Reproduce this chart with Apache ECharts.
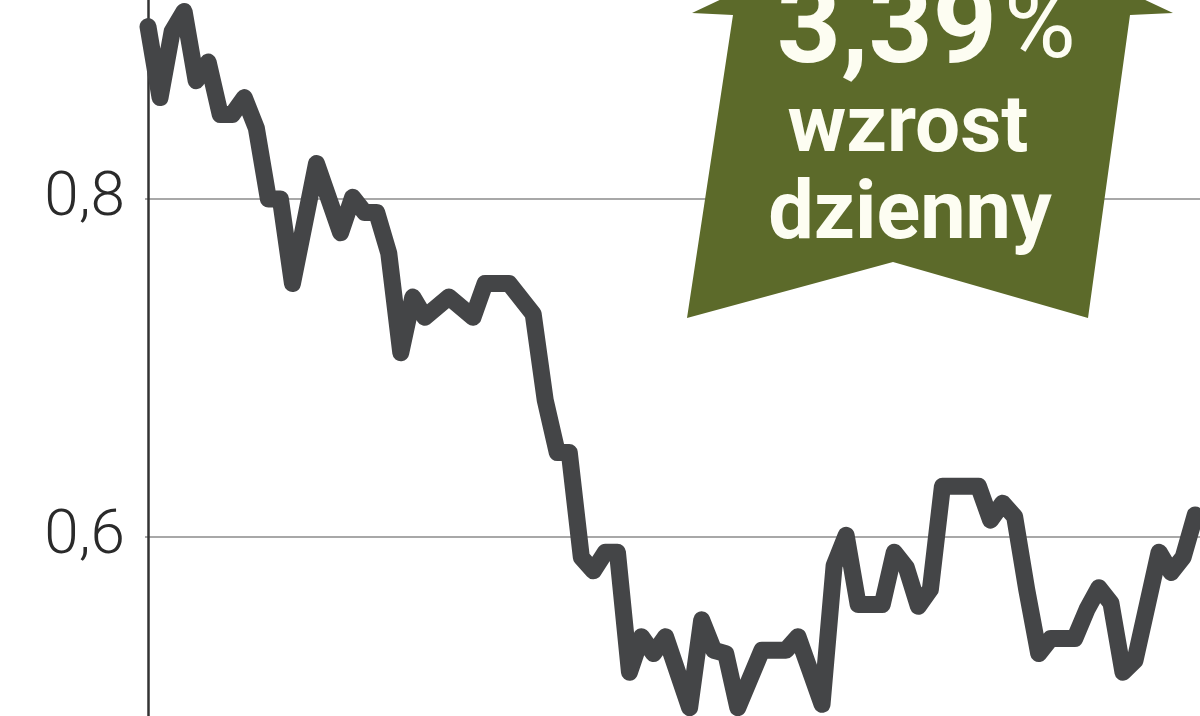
<!DOCTYPE html>
<html>
<head>
<meta charset="utf-8">
<script src="https://cdn.jsdelivr.net/npm/echarts@6/dist/echarts.min.js"></script>
<style>
html,body{margin:0;padding:0;background:#fff;}
#c{width:1200px;height:716px;}
</style>
</head>
<body>
<div id="c"></div>
<script>
// trading-day index of each vertex
const days = [0,1,2,3,4,5,6,7,8,9,10,11,12,14,16,17,18,19,20,21,22,23,25,27,28,30,32,33,34,35,36,37,38,39,40,41,42,43,45,46,47,48,49,51,53,54,55,56,57,58,59,61,62,63,64,65,66,69,70,71,72,73,74,75,77,78,79,80,81,82,84,85,86,87];
// price values at those days
const prices = [0.902,0.860,0.899,0.911,0.870,0.881,0.850,0.850,0.860,0.842,0.800,0.800,0.750,0.821,0.780,0.801,0.792,0.792,0.768,0.709,0.742,0.730,0.742,0.730,0.750,0.750,0.732,0.681,0.650,0.650,0.588,0.580,0.591,0.591,0.520,0.541,0.531,0.541,0.499,0.551,0.533,0.531,0.499,0.533,0.533,0.541,0.521,0.501,0.583,0.601,0.560,0.560,0.591,0.582,0.559,0.569,0.630,0.630,0.610,0.620,0.612,0.569,0.531,0.540,0.540,0.557,0.570,0.561,0.520,0.527,0.591,0.579,0.588,0.613];
// y-axis tick values
const yTicks = [0.4,0.6,0.8,1.0];
// badge texts
const badgeValue = '3,39';
const badgePct = '%';
const badgeLine1 = 'wzrost';
const badgeLine2 = 'dzienny';

const seriesData = days.map((d, i) => [d, prices[i]]);

const chart = echarts.init(document.getElementById('c'), null, {renderer: 'canvas'});
chart.setOption({
  animation: false,
  backgroundColor: '#ffffff',
  grid: {left: 145, right: 0, top: -139, bottom: -159, containLabel: false, outerBoundsMode: 'none'},
  xAxis: {
    type: 'value', min: -0.25, max: 87.4,
    show: false
  },
  yAxis: {
    type: 'value', min: yTicks[0], max: yTicks[yTicks.length - 1], interval: 0.2,
    axisLine: {show: true, lineStyle: {color: '#333333', width: 2.5}},
    axisTick: {show: false},
    axisLabel: {
      margin: 20,
      fontFamily: 'Roboto', fontWeight: 300, fontSize: 62, color: '#2a2a2a',
      formatter: v => v.toFixed(1).replace('.', ',')
    },
    splitLine: {show: true, lineStyle: {color: '#a8a8a8', width: 2}}
  },
  series: [{
    type: 'line',
    data: seriesData,
    symbol: 'none',
    lineStyle: {color: '#444547', width: 17, cap: 'round', join: 'round'},
    z: 2
  }],
  graphic: [
    {
      type: 'polygon', z: 10,
      shape: {points: [[692,13],[932,-100],[1173,13],[1130,15],[1088,318],[893,262],[687,318],[733,15]]},
      style: {fill: '#5c6a2a'}
    },
    {
      type: 'text', z: 11, x: 997, y: 34,
      style: {text: badgeValue, fill: '#fdfdf2', font: 'bold 112px Roboto', textAlign: 'right', textVerticalAlign: 'middle'}
    },
    {
      type: 'text', z: 11, x: 1004, y: 32,
      style: {text: badgePct, fill: '#fdfdf2', font: '400 98px Roboto', textAlign: 'left', textVerticalAlign: 'middle'}
    },
    {
      type: 'text', z: 11, x: 908, y: 131,
      style: {text: badgeLine1, fill: '#fdfdf2', font: 'bold 80px Roboto', textAlign: 'center', textVerticalAlign: 'middle'}
    },
    {
      type: 'text', z: 11, x: 910, y: 218,
      style: {text: badgeLine2, fill: '#fdfdf2', font: 'bold 81px Roboto', textAlign: 'center', textVerticalAlign: 'middle'}
    }
  ]
});
</script>
</body>
</html>
